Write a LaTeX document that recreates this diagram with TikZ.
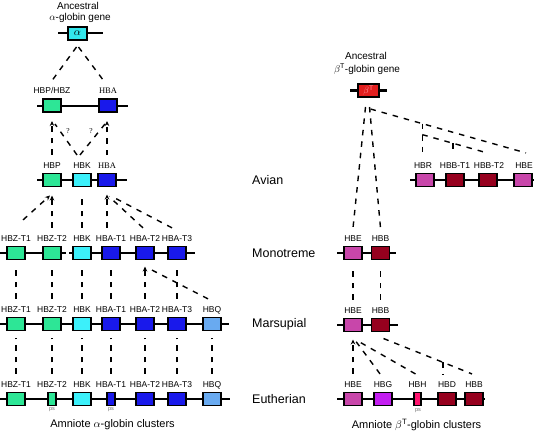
\documentclass[tikz,border=0pt]{standalone}
\usepackage{fontspec}
\setmainfont{Liberation Sans}
\newfontfamily\seriffam{Liberation Serif}
\usetikzlibrary{arrows.meta,calc}
\definecolor{gGreen}{RGB}{45,230,150}
\definecolor{gCyan}{RGB}{60,240,250}
\definecolor{gAlpha}{RGB}{50,230,235}
\definecolor{gBlue}{RGB}{25,25,235}
\definecolor{gLblue}{RGB}{105,170,240}
\definecolor{gRed}{RGB}{225,30,30}
\definecolor{gMag}{RGB}{200,70,170}
\definecolor{gDred}{RGB}{150,0,30}
\definecolor{gPurp}{RGB}{195,30,240}
\definecolor{gPink}{RGB}{255,20,110}
\definecolor{psgray}{RGB}{110,110,110}
\definecolor{betatxt}{RGB}{255,150,160}
\begin{document}
\begin{tikzpicture}[x=1pt,y=-1pt,
 gene/.style={draw=black,line width=1.6pt,minimum width=18pt,minimum height=13pt,inner sep=0pt,outer sep=0pt},
 narrowgene/.style={gene,minimum width=7.5pt},
 glab/.style={font=\fontsize{8.5}{9}\selectfont,anchor=base,inner sep=0pt},
 slab/.style={glab,font=\seriffam\fontsize{8.5}{9}\selectfont},
 pslab/.style={font=\fontsize{5.5}{6}\selectfont,text=psgray,inner sep=0pt},
 chrom/.style={line width=2pt},
 dl/.style={line width=1.4pt,dash pattern=on 5.5pt off 6pt},
 arr/.style={-{Stealth[length=5pt,width=4.5pt]}},
 grp/.style={font=\fontsize{12.5}{13}\selectfont,anchor=west,inner sep=0pt},
 ttl/.style={font=\fontsize{10}{11}\selectfont,inner sep=0pt},
 capt/.style={font=\fontsize{11}{12}\selectfont,inner sep=0pt},
 qm/.style={font=\seriffam\fontsize{7.5}{8}\selectfont,inner sep=0pt}]
\useasboundingbox (0,0) rectangle (534,433);

% ---------------- alpha: ancestral ----------------
\node[ttl] (ancA) at (78,5.5) {Ancestral};
\node[ttl] (ancAg) at (80,18) {$\alpha$-globin gene};
\draw[chrom] (58,33.5) -- (103,33.5);
\node[gene,fill=gAlpha,minimum width=19.5pt] (alpha) at (77.5,33.5) {\fontsize{11}{11}\selectfont$\alpha$};

% row 1
\draw[chrom] (37,105.5) -- (128,105.5);
\node[gene,fill=gGreen] (r1P) at (52,105.5) {};
\node[gene,fill=gBlue] (r1A) at (108,105.5) {};
\node[glab] (r1Pl) at (52,93) {HBP/HBZ};
\node[slab] (r1Al) at (108,93) {HBA};

% avian alpha
\draw[chrom] (37,180) -- (127,180);
\node[gene,fill=gGreen] (avP) at (52,180) {};
\node[gene,fill=gCyan] (avK) at (82,180) {};
\node[gene,fill=gBlue] (avA) at (107,180) {};
\node[glab] (avPl) at (52,168) {HBP};
\node[glab] (avKl) at (82,168) {HBK};
\node[slab] (avAl) at (107,168) {HBA};

% monotreme alpha
\draw[chrom] (0,253) -- (66,253);
\draw[chrom] (69,253) -- (195,253);
\node[gene,fill=gGreen] (mZ1) at (16,253) {};
\node[gene,fill=gGreen] (mZ2) at (52,253) {};
\node[gene,fill=gCyan] (mK) at (82,253) {};
\node[gene,fill=gBlue] (mA1) at (111,253) {};
\node[gene,fill=gBlue] (mA2) at (145,253) {};
\node[gene,fill=gBlue] (mA3) at (177,253) {};
\node[glab] (mZ1l) at (16,241) {HBZ-T1};
\node[glab] (mZ2l) at (52,241) {HBZ-T2};
\node[glab] (mKl) at (82,241) {HBK};
\node[glab] (mA1l) at (111,241) {HBA-T1};
\node[glab] (mA2l) at (145,241) {HBA-T2};
\node[glab] (mA3l) at (177,241) {HBA-T3};

% marsupial alpha
\draw[chrom] (0,324) -- (229,324);
\node[gene,fill=gGreen] (sZ1) at (16,324) {};
\node[gene,fill=gGreen] (sZ2) at (52,324) {};
\node[gene,fill=gCyan] (sK) at (82,324) {};
\node[gene,fill=gBlue] (sA1) at (111,324) {};
\node[gene,fill=gBlue] (sA2) at (145,324) {};
\node[gene,fill=gBlue] (sA3) at (177,324) {};
\node[gene,fill=gLblue] (sQ) at (212,324) {};
\node[glab] (sZ1l) at (16,312) {HBZ-T1};
\node[glab] (sZ2l) at (52,312) {HBZ-T2};
\node[glab] (sKl) at (82,312) {HBK};
\node[glab] (sA1l) at (111,312) {HBA-T1};
\node[glab] (sA2l) at (145,312) {HBA-T2};
\node[glab] (sA3l) at (177,312) {HBA-T3};
\node[glab] (sQl) at (212,312) {HBQ};

% eutherian alpha
\draw[chrom] (0,399) -- (230,399);
\node[gene,fill=gGreen] (eZ1) at (16,399) {};
\node[narrowgene,fill=gGreen] (eZ2) at (52,399) {};
\node[gene,fill=gCyan] (eK) at (82,399) {};
\node[narrowgene,fill=gBlue] (eA1) at (111,399) {};
\node[gene,fill=gBlue] (eA2) at (145,399) {};
\node[gene,fill=gBlue] (eA3) at (177,399) {};
\node[gene,fill=gLblue] (eQ) at (212,399) {};
\node[glab] (eZ1l) at (16,387) {HBZ-T1};
\node[glab] (eZ2l) at (52,387) {HBZ-T2};
\node[glab] (eKl) at (82,387) {HBK};
\node[glab] (eA1l) at (111,387) {HBA-T1};
\node[glab] (eA2l) at (145,387) {HBA-T2};
\node[glab] (eA3l) at (177,387) {HBA-T3};
\node[glab] (eQl) at (212,387) {HBQ};
\node[pslab] (eZ2ps) at (52,410) {ps};
\node[pslab] (eA1ps) at (111,410) {ps};

% alpha connectors
\draw[dl] ($(alpha.south)+(-1,7)$) -- ($(r1Pl.north)+(0,-6)$);
\draw[dl] ($(alpha.south)+(1,7)$) -- ($(r1Al.north)+(-4,-6)$);

\draw[dl,arr] ($(avPl.north)+(0,-7)$) -- ($(r1P.south)+(0,9)$);
\draw[dl] ($(avKl.north)+(-5,-7)$) -- ($(r1P.south)+(3,12)$);
\draw[dl] ($(avKl.north)+(-2,-7)$) -- ($(r1A.south)+(-3,12)$);
\draw[dl,arr] ($(avAl.north)+(0,-7)$) -- ($(r1A.south)+(-1,9)$);
\node[qm] (q1) at (68,131) {?};
\node[qm] (q2) at (91,131) {?};

\draw[dl,arr] ($(mZ1l.north)+(7,-15)$) -- ($(avP.south)+(-2,9)$);
\draw[dl,arr] ($(mZ2l.north)+(0,-7)$) -- ($(avP.south)+(0,9)$);
\draw[dl] ($(mKl.north)+(0,-7)$) -- ($(avK.south)+(0,8)$);
\draw[dl,arr] ($(avA.south |- mA1l.north)+(0,-7)$) -- ($(avA.south)+(0,8)$);
\draw[dl] ($(mA2l.north)+(-2,-7)$) -- ($(avA.south)+(2,10)$);
\draw[dl] ($(mA3l.north)+(-5,-7)$) -- ($(avA.south)+(5,10)$);

\draw[dl] ($(sZ1l.north)+(0,-7)$) -- ($(mZ1.south)+(0,7)$);
\draw[dl] ($(sZ2l.north)+(0,-7)$) -- ($(mZ2.south)+(0,7)$);
\draw[dl] ($(sKl.north)+(0,-7)$) -- ($(mK.south)+(0,7)$);
\draw[dl] ($(sA1l.north)+(0,-7)$) -- ($(mA1.south)+(0,7)$);
\draw[dl,arr] ($(sA2l.north)+(0,-7)$) -- ($(mA2.south)+(0,7)$);
\draw[dl] ($(sA3l.north)+(0,-7)$) -- ($(mA3.south)+(0,7)$);
\draw[dl] ($(sQl.north)+(-4,-7)$) -- ($(mA2.south)+(2,8)$);

\draw[dl] ($(eZ1l.north)+(0,-7)$) -- ($(sZ1.south)+(0,7)$);
\draw[dl] ($(eZ2l.north)+(0,-7)$) -- ($(sZ2.south)+(0,7)$);
\draw[dl] ($(eKl.north)+(0,-7)$) -- ($(sK.south)+(0,7)$);
\draw[dl] ($(eA1l.north)+(0,-7)$) -- ($(sA1.south)+(0,7)$);
\draw[dl] ($(eA2l.north)+(0,-7)$) -- ($(sA2.south)+(0,7)$);
\draw[dl] ($(eA3l.north)+(0,-7)$) -- ($(sA3.south)+(0,7)$);
\draw[dl] ($(eQl.north)+(0,-7)$) -- ($(sQ.south)+(0,7)$);

% ---------------- group labels ----------------
\node[grp] (gAv) at (252,180) {Avian};
\node[grp] (gMo) at (252,253) {Monotreme};
\node[grp] (gMa) at (252,324) {Marsupial};
\node[grp] (gEu) at (252,399) {Eutherian};

% ---------------- beta: ancestral ----------------
\node[ttl] (ancB) at (366,55.5) {Ancestral};
\node[ttl] (ancBg) at (367,69) {$\beta^{\mathrm{T}}$-globin gene};
\draw[chrom] (350,90.5) -- (387,90.5);
\node[gene,fill=gRed,minimum width=21.5pt] (beta) at (368.5,90.5) {\fontsize{9.5}{9.5}\selectfont\color{betatxt}$\beta^{\mathrm{T}}$};

% avian beta
\draw[chrom] (410,180) -- (534,180);
\node[gene,fill=gMag] (abR) at (425,180) {};
\node[gene,fill=gDred] (abT1) at (455,180) {};
\node[gene,fill=gDred] (abT2) at (488,180) {};
\node[gene,fill=gMag] (abE) at (523,180) {};
\node[glab] (abRl) at (423,168) {HBR};
\node[glab] (abT1l) at (455,168) {HBB-T1};
\node[glab] (abT2l) at (489,168) {HBB-T2};
\node[glab] (abEl) at (524,168) {HBE};

% monotreme beta
\draw[chrom] (337,253) -- (396,253);
\node[gene,fill=gMag] (mbE) at (353,253) {};
\node[gene,fill=gDred] (mbB) at (380.5,253) {};
\node[glab] (mbEl) at (353,241) {HBE};
\node[glab] (mbBl) at (380.5,241) {HBB};

% marsupial beta
\draw[chrom] (337,325) -- (398,325);
\node[gene,fill=gMag] (sbE) at (353,325) {};
\node[gene,fill=gDred] (sbB) at (380.5,325) {};
\node[glab] (sbEl) at (353,313) {HBE};
\node[glab] (sbBl) at (380.5,313) {HBB};

% eutherian beta
\draw[chrom] (337,399) -- (485,399);
\node[gene,fill=gMag] (ebE) at (353,399) {};
\node[gene,fill=gPurp] (ebG) at (383,399) {};
\node[narrowgene,fill=gPink] (ebH) at (417.5,399) {};
\node[gene,fill=gDred] (ebD) at (447,399) {};
\node[gene,fill=gDred] (ebB) at (474,399) {};
\node[glab] (ebEl) at (353,387) {HBE};
\node[glab] (ebGl) at (383,387) {HBG};
\node[glab] (ebHl) at (417.5,387) {HBH};
\node[glab] (ebDl) at (447,387) {HBD};
\node[glab] (ebBl) at (474,387) {HBB};
\node[pslab] (ebHps) at (418,411) {ps};

% beta connectors
\draw[dl] ($(beta.south)+(-3,10)$) -- ($(mbEl.north)+(0,-7)$);
\draw[dl] ($(beta.south)+(1,10)$) -- ($(mbBl.north)+(0,-7)$);
\draw[dl] ($(beta.south)+(2,12)$) -- coordinate[pos=0.333] (bt1) ($(abEl.north)+(2,-9)$);
\draw[dl] (bt1) -- ($(bt1 |- abRl.north)+(0,-9)$);
\draw[dl] ($(bt1)+(0,11)$) -- coordinate[pos=0.477] (bt2) ($(abT2l.north)+(-2,-9)$);
\draw[dl] (bt2) -- ($(bt2 |- abT1l.north)+(0,-9)$);

\draw[dl] ($(sbEl.north)+(0,-7)$) -- ($(mbE.south)+(0,7)$);
\draw[dl] ($(sbBl.north)+(0,-7)$) -- ($(mbB.south)+(0,7)$);

\draw[dl,arr] ($(ebEl.north)+(0,-7)$) -- ($(sbE.south)+(0,8)$);
\draw[dl] ($(ebGl.north)+(-3,-7)$) -- ($(sbE.south)+(3,10)$);
\draw[dl] ($(ebHl.north)+(-2,-7)$) -- ($(sbE.south)+(4,9)$);
\draw[dl] ($(sbB.south)+(3,7)$) -- coordinate[pos=0.674] (bt3) ($(ebBl.north)+(-2,-7)$);
\draw[dl] (bt3) -- ($(bt3 |- ebDl.north)+(0,-7)$);

% ---------------- captions ----------------
\node[capt] (capA) at (112.5,425) {Amniote $\alpha$-globin clusters};
\node[capt] (capB) at (416.5,425) {Amniote $\beta^{\mathrm{T}}$-globin clusters};
\end{tikzpicture}
\end{document}
